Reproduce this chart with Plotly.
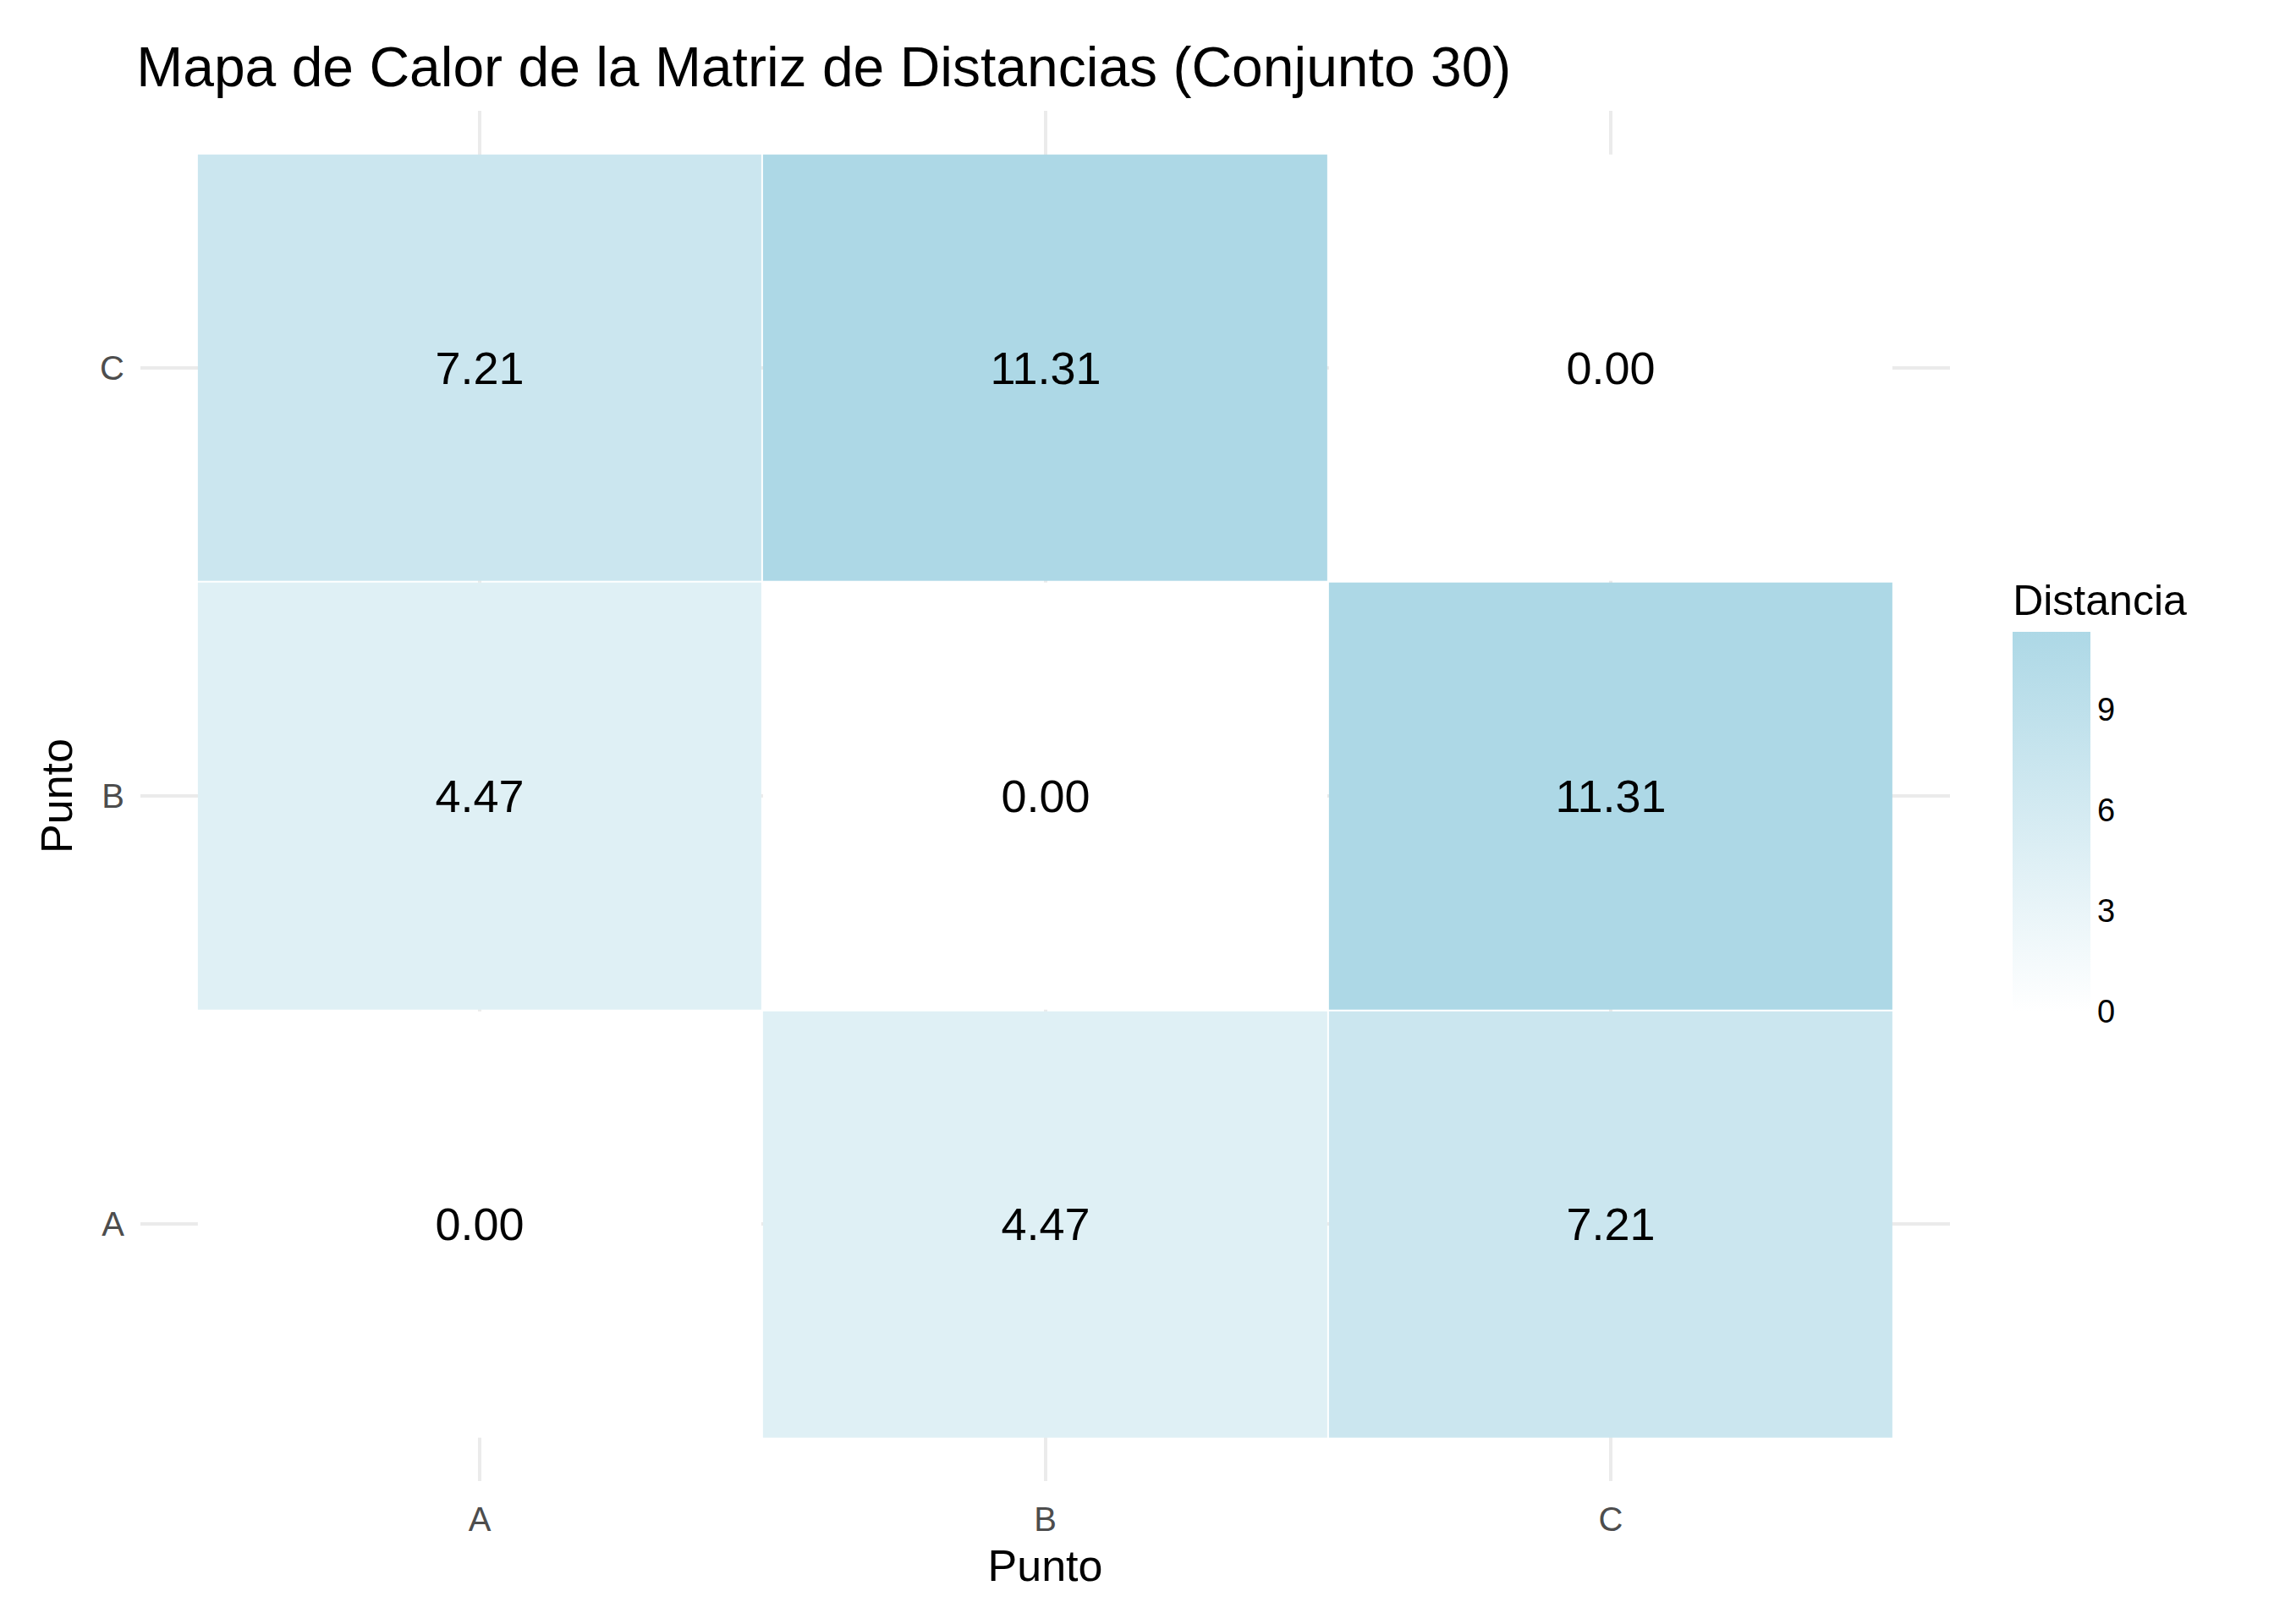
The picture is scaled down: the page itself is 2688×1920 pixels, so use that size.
import plotly.graph_objects as go

puntos = ["A", "B", "C"]
distancias = [
    [0.00, 4.47, 7.21],   # row y=A
    [4.47, 0.00, 11.31],  # row y=B
    [7.21, 11.31, 0.00],  # row y=C
]
texto = [[f"{v:.2f}" for v in row] for row in distancias]

fig = go.Figure(go.Heatmap(
    x=puntos, y=puntos, z=distancias, text=texto, texttemplate="%{text}",
    textfont=dict(size=54, color="black", family="Liberation Sans"),
    colorscale=[[0, "#FFFFFF"], [1, "#ADD8E6"]], zmin=0, zmax=11.31,
    xgap=2, ygap=2,
    colorbar=dict(title=dict(text="Distancia", font=dict(size=50), side="top"),
                  tickvals=[0, 3, 6, 9], tickfont=dict(size=38), outlinewidth=0,
                  thickness=92, len=530, lenmode="pixels", x=1.03, xanchor="left",
                  y=0.5, yanchor="middle", ticks=""),
))
fig.update_layout(
    width=2688, height=1920, plot_bgcolor="white", paper_bgcolor="white",
    font=dict(family="Liberation Sans", color="black"),
    title=dict(text="Mapa de Calor de la Matriz de Distancias (Conjunto 30)",
               font=dict(size=66), x=0.057, xanchor="left", y=0.975),
    margin=dict(l=158, r=391, t=123, b=177),
)
fig.update_xaxes(title=dict(text="Punto", font=dict(size=52)), range=[-0.6, 2.6],
                 showgrid=True, gridcolor="#EBEBEB", gridwidth=4, zeroline=False,
                 tickfont=dict(size=40, color="#4D4D4D"), ticklabelstandoff=18)
fig.update_yaxes(title=dict(text="Punto", font=dict(size=52)), range=[-0.6, 2.6],
                 showgrid=True, gridcolor="#EBEBEB", gridwidth=4, zeroline=False,
                 tickfont=dict(size=40, color="#4D4D4D"), ticklabelstandoff=18)
fig.write_html("out.html")
